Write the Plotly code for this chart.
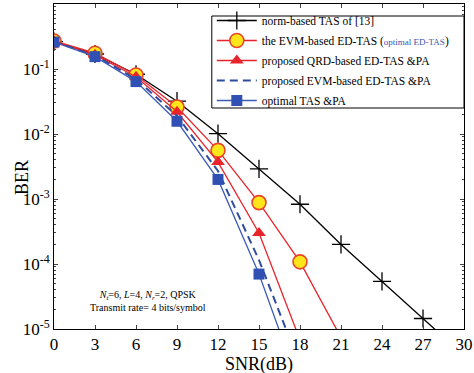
import plotly.graph_objects as go

# ---- data ----
snr_norm = [0, 3, 6, 9, 12, 15, 18, 21, 24, 27, 30]
ber_norm = [0.264, 0.17, 0.083, 0.032, 0.0101, 0.0029, 8.3e-4, 2.0e-4, 5.4e-5, 1.45e-5, 3.9e-6]

snr_evm = [0, 3, 6, 9, 12, 15, 18, 21]
ber_evm = [0.27, 0.175, 0.081, 0.026, 0.0056, 8.8e-4, 1.08e-4, 7.4e-6]

snr_qrd_pa = [0, 3, 6, 9, 12, 15, 18]
ber_qrd_pa = [0.27, 0.165, 0.076, 0.022, 0.0037, 3.0e-4, 6.8e-6]

snr_evm_pa = [0, 3, 6, 9, 12, 15, 18]
ber_evm_pa = [0.265, 0.16, 0.07, 0.019, 0.0027, 1.15e-4, 2.8e-6]

snr_opt_pa = [0, 3, 6, 9, 12, 15, 18]
ber_opt_pa = [0.26, 0.155, 0.064, 0.0157, 0.0020, 7.0e-5, 1.25e-6]

x_ticks = [0, 3, 6, 9, 12, 15, 18, 21, 24, 27, 30]
y_ticks = [1, 1e-1, 1e-2, 1e-3, 1e-4, 1e-5]
y_ticktext = ["10<sup>0</sup>", "10<sup>-1</sup>", "10<sup>-2</sup>",
              "10<sup>-3</sup>", "10<sup>-4</sup>", "10<sup>-5</sup>"]

names = [
    "norm-based TAS of [13]",
    "the EVM-based ED-TAS (<span style='color:#3b55b0;font-size:9px'>optimal ED-TAS</span>)",
    "proposed QRD-based ED-TAS &PA",
    "proposed EVM-based ED-TAS &PA",
    "optimal TAS &PA",
]

RED = "#e8232b"
BLUE = "#3d5cb8"
FONT = "Liberation Serif"

fig = go.Figure()
fig.add_trace(go.Scatter(
    x=snr_norm, y=ber_norm, name=names[0], mode="lines+markers", legendgroup="a",
    line=dict(color="black", width=1.3),
    marker=dict(symbol="cross-thin", size=13, line=dict(color="black", width=1.3)),
))
fig.add_trace(go.Scatter(
    x=snr_evm, y=ber_evm, name=names[1], mode="lines+markers", legendgroup="b",
    line=dict(color=RED, width=1.3),
    marker=dict(symbol="circle", size=14, color="#ffe61a", line=dict(color="#e8452a", width=1.6)),
))
fig.add_trace(go.Scatter(
    x=snr_qrd_pa, y=ber_qrd_pa, name=names[2], mode="lines+markers", legendgroup="c",
    line=dict(color=RED, width=1.3),
    marker=dict(symbol="triangle-up", size=12, color=RED),
))
fig.add_trace(go.Scatter(
    x=snr_evm_pa, y=ber_evm_pa, name=names[3], mode="lines", legendgroup="d",
    line=dict(color="#2f4c9e", width=2, dash="8px,5px"),
))
fig.add_trace(go.Scatter(
    x=snr_opt_pa, y=ber_opt_pa, name=names[4], mode="lines+markers", legendgroup="e",
    line=dict(color=BLUE, width=1.3),
    marker=dict(symbol="square", size=11, color="#3050b4"),
))

minor_vals = []
for e in range(-5, 0):
    for m in range(2, 10):
        minor_vals.append(m * 10 ** e)

# plot area in pixels: x 54..464.5, y 4..329
def px_x(p):
    return (p - 54) / 410.5

def px_y(p):
    return (329 - p) / 325.0

fig.update_layout(
    width=474, height=373,
    margin=dict(l=54, r=9.5, t=4, b=44),
    paper_bgcolor="white", plot_bgcolor="white",
    font=dict(family=FONT, color="black", size=17),
    showlegend=True,
    legend=dict(
        x=px_x(212), xanchor="left", y=px_y(6), yanchor="top",
        bgcolor="rgba(0,0,0,0)", borderwidth=0,
        font=dict(family=FONT, size=11.5, color="black"),
        itemwidth=40, tracegroupgap=1,
    ),
    shapes=[
        dict(type="rect", xref="paper", yref="paper", layer="above",
             x0=px_x(212), x1=px_x(464.5), y0=px_y(108), y1=px_y(16),
             fillcolor="white", line=dict(color="black", width=1)),
    ],
    xaxis=dict(
        range=[0, 30], tickvals=x_ticks, ticks="inside", ticklen=4,
        showline=True, linecolor="black", linewidth=1, mirror="ticks",
        showgrid=False, zeroline=False, automargin=False,
        tickfont=dict(family=FONT, size=17),
    ),
    yaxis=dict(
        type="log", range=[-5, 0], tickvals=y_ticks, ticktext=y_ticktext,
        ticks="inside", ticklen=4,
        showline=True, linecolor="black", linewidth=1, mirror="ticks",
        showgrid=False, zeroline=False, automargin=False,
        tickfont=dict(family=FONT, size=17),
        minor=dict(tickvals=minor_vals, ticks="inside", ticklen=2, showgrid=False),
    ),
    annotations=[
        dict(
            xref="paper", yref="paper", x=0.23, y=0.085,
            xanchor="center", yanchor="middle", showarrow=False, align="center",
            text="<i>N</i><sub><i>t</i></sub>=6, <i>L</i>=4, <i>N</i><sub><i>r</i></sub>=2, QPSK<br>Transmit rate= 4 bits/symbol",
            font=dict(family=FONT, size=10, color="black"),
        ),
        dict(
            xref="paper", yref="paper", x=px_x(259), y=px_y(364),
            xanchor="center", yanchor="middle", showarrow=False,
            text="SNR(dB)", font=dict(family=FONT, size=18, color="black"),
        ),
        dict(
            xref="paper", yref="paper", x=px_x(22), y=px_y(178),
            xanchor="center", yanchor="middle", showarrow=False, textangle=-90,
            text="BER", font=dict(family=FONT, size=18, color="black"),
        ),
    ],
)

fig.write_html("out.html", config={"displayModeBar": False},
               post_script="document.body.style.margin='0';document.body.style.overflow='hidden';")
